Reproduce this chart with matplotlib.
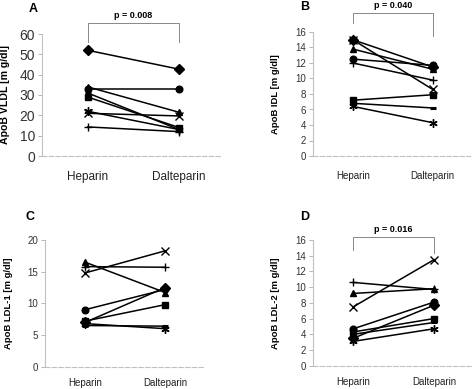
import matplotlib
matplotlib.use("Agg")
import matplotlib.pyplot as plt

plt.rcParams['font.family'] = ['Liberation Sans', 'DejaVu Sans']

groups = ["Heparin", "Dalteparin"]
markers = ['D', 's', '^', 'x', (6, 2, 0), 'o', '+', '_']

# values per subject: (heparin, dalteparin)
vldl = [(52, 42.7), (29, 14), (34, 21.5), (21, 19.7), (22, 13), (33, 33), (14.3, 12), (31, 13)]
idl = [(15, 11.5), (7.2, 7.9), (13.8, 11.2), (15, 8.6), (6.4, 4.3), (12.5, 11.7), (12.0, 9.8), (6.8, 6.2)]
ldl1 = [(7.0, 12.5), (7.2, 9.8), (16.5, 11.7), (14.8, 18.3), (6.8, 6.0), (9.0, 12.2), (15.8, 15.7), (6.5, 6.4)]
ldl2 = [(3.5, 7.7), (4.3, 6.0), (9.2, 9.8), (7.5, 13.5), (3.1, 4.7), (4.7, 8.1), (10.6, 9.7), (4.0, 5.5)]

W, H = 474, 389

panels = [
    dict(data=vldl, ylim=60, step=10, label="ApoB VLDL [m g/dl]", letter="A", lpos=(33, 9),
         px=(42, 156, 222, 34), p="p = 0.008", br=(65.4, 56, 56), fs=8.5, lfs=7.6,
         labx=-0.18, pad=11),
    dict(data=idl, ylim=16, step=2, label="ApoB IDL [m g/dl]", letter="B", lpos=(305, 7),
         px=(313, 156, 470, 32), p="p = 0.040", br=(18.45, 17.2, 15.5), fs=7, lfs=6.8,
         labx=-0.21, pad=11),
    dict(data=ldl1, ylim=20, step=5, label="ApoB LDL-1 [m g/dl]", letter="C", lpos=(30, 217),
         px=(45, 366.7, 203, 240), p=None, br=None, fs=7, lfs=6.8,
         labx=-0.20, pad=8),
    dict(data=ldl2, ylim=16, step=2, label="ApoB LDL-2 [m g/dl]", letter="D", lpos=(305, 217),
         px=(313, 365.7, 472, 240), p="p = 0.016", br=(16.4, 14.75, 14.4), fs=7, lfs=6.8,
         labx=-0.21, pad=8),
]

fig = plt.figure(figsize=(W / 100, H / 100), dpi=100)

for pn in panels:
    x0, yb, x1, yt = pn['px']
    ax = fig.add_axes([x0 / W, 1 - yb / H, (x1 - x0) / W, (yb - yt) / H])
    fs = pn['fs']
    for (h, d), m in zip(pn['data'], markers):
        kw = dict(markersize=4.8)
        if m in ('x', '+', (6, 2, 0)):
            kw = dict(markersize=6, markeredgewidth=1.0)
        if m == '_':
            kw = dict(markersize=4.5, markeredgewidth=2.2)
        ax.plot([0, 1], [h, d], color='black', lw=1.1, marker=m, **kw)
    ax.set_xlim(-0.5, 1.47)
    ax.set_ylim(0, pn['ylim'])
    ax.set_yticks(range(0, pn['ylim'] + 1, pn['step']))
    ax.set_xticks([0, 1])
    ax.set_xticklabels(groups, fontsize=fs, color='#222222')
    ax.tick_params(axis='x', length=0, pad=pn['pad'])
    ax.tick_params(axis='y', labelsize=fs + 1.5 if pn['letter'] == 'A' else fs,
                   colors='#333333', length=3, width=0.6, color='#aaaaaa', pad=2)
    for s in ('top', 'right'):
        ax.spines[s].set_visible(False)
    ax.spines['left'].set_color('#c0c0c0')
    ax.spines['left'].set_linewidth(0.8)
    ax.spines['bottom'].set_color('#c0c0c0')
    ax.spines['bottom'].set_linestyle((0, (4, 2)))
    ax.spines['bottom'].set_linewidth(0.8)
    ax.set_ylabel(pn['label'], fontsize=pn['lfs'], fontweight='bold')
    ax.yaxis.set_label_coords(pn['labx'], 0.5)
    lx, ly = pn['lpos']
    fig.text(lx / W, 1 - ly / H, pn['letter'], fontsize=9, fontweight='bold',
             ha='center', va='center')
    if pn['br']:
        top, l, r = pn['br']
        ax.plot([0, 0, 1, 1], [l, top, top, r], color='#888888', lw=0.7, clip_on=False)
        ax.text(0.5, top + pn['ylim'] * 0.025, pn['p'], ha='center', va='bottom',
                fontsize=6.5, fontweight='bold')

fig.savefig("out.png", dpi=100)
